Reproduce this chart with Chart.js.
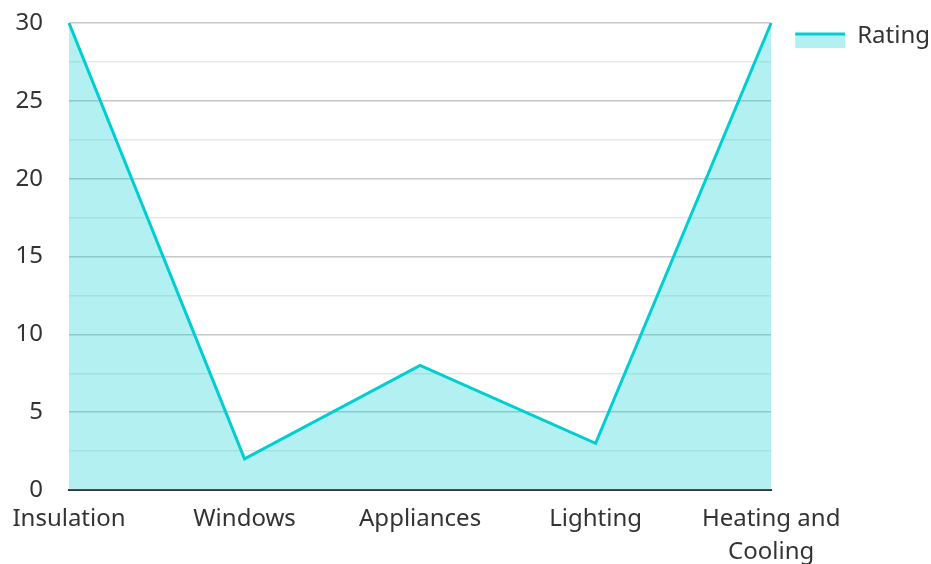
<!DOCTYPE html>
<html lang="en">
<head>
    <meta charset="UTF-8">
    <title>Rating</title>
    <style>
        html, body {
            margin: 0;
            padding: 0;
            background: #fff;
        }
        .container {
            width: 931px;
            height: 564px;
            position: relative;
        }
    </style>
    <script src="https://cdn.jsdelivr.net/npm/chart.js"></script>
</head>
<body>
    <div class="container">
        <canvas id="ratingChart"></canvas>
    </div>
    <script>
        // Data
        const categories = ['Insulation', 'Windows', 'Appliances', 'Lighting', ['Heating and', 'Cooling']];
        const ratings = [30, 2, 8, 3, 30];
        const yTicks = [0, 5, 10, 15, 20, 25, 30];

        const lineColor = 'rgb(0, 206, 209)';
        const fillColor = 'rgba(0, 206, 209, 0.3)';

        Chart.defaults.font.family = "'Noto Sans', sans-serif";
        Chart.defaults.font.size = 24;
        Chart.defaults.font.lineHeight = 1.36;
        Chart.defaults.color = '#333';

        // legend marker: thick line on top, filled area below
        // (transparent margin on the left/top to place it like the reference)
        const marker = document.createElement('canvas');
        marker.width = 73;
        marker.height = 23;
        const mctx = marker.getContext('2d');
        mctx.fillStyle = fillColor;
        mctx.fillRect(23, 11, 50, 12);
        mctx.fillStyle = lineColor;
        mctx.fillRect(23, 8, 50, 3);

        const ctx = document.getElementById('ratingChart').getContext('2d');
        new Chart(ctx, {
            type: 'line',
            data: {
                labels: categories,
                datasets: [{
                    label: 'Rating',
                    data: ratings,
                    borderColor: lineColor,
                    backgroundColor: fillColor,
                    borderWidth: 3,
                    pointRadius: 0,
                    tension: 0,
                    fill: 'origin'
                }]
            },
            options: {
                responsive: true,
                maintainAspectRatio: false,
                animation: false,
                layout: {
                    padding: { top: 23, right: -9, bottom: 0, left: 0 }
                },
                plugins: {
                    legend: {
                        position: 'right',
                        align: 'start',
                        labels: {
                            usePointStyle: true,
                            pointStyle: marker,
                            pointStyleWidth: 73,
                            boxHeight: 15,
                            padding: 1,
                            color: '#333',
                            font: { size: 24 }
                        }
                    },
                    tooltip: { enabled: false }
                },
                scales: {
                    x: {
                        offset: false,
                        grid: {
                            display: false,
                            drawTicks: false
                        },
                        border: {
                            display: true,
                            color: '#333',
                            width: 2
                        },
                        ticks: {
                            padding: 13,
                            maxRotation: 0,
                            autoSkip: false,
                            color: '#333'
                        },
                        afterFit: (scale) => {
                            scale.height = 74;
                            scale.paddingLeft = 0;
                            scale.paddingRight = 0;
                        }
                    },
                    y: {
                        min: 0,
                        max: 30,
                        ticks: {
                            stepSize: 2.5,
                            padding: 26,
                            color: '#333',
                            callback: (v) => yTicks.includes(v) ? String(v) : ''
                        },
                        grid: {
                            drawTicks: false,
                            lineWidth: 1.5,
                            color: (c) => (c.tick && c.tick.value % 5 === 0) ? '#c8c8c8' : '#e8e8e8'
                        },
                        border: { display: false },
                        afterFit: (scale) => {
                            scale.width = 69;
                            scale.paddingTop = 23;
                            scale.paddingBottom = 0;
                        }
                    }
                }
            }
        });
    </script>
</body>
</html>
